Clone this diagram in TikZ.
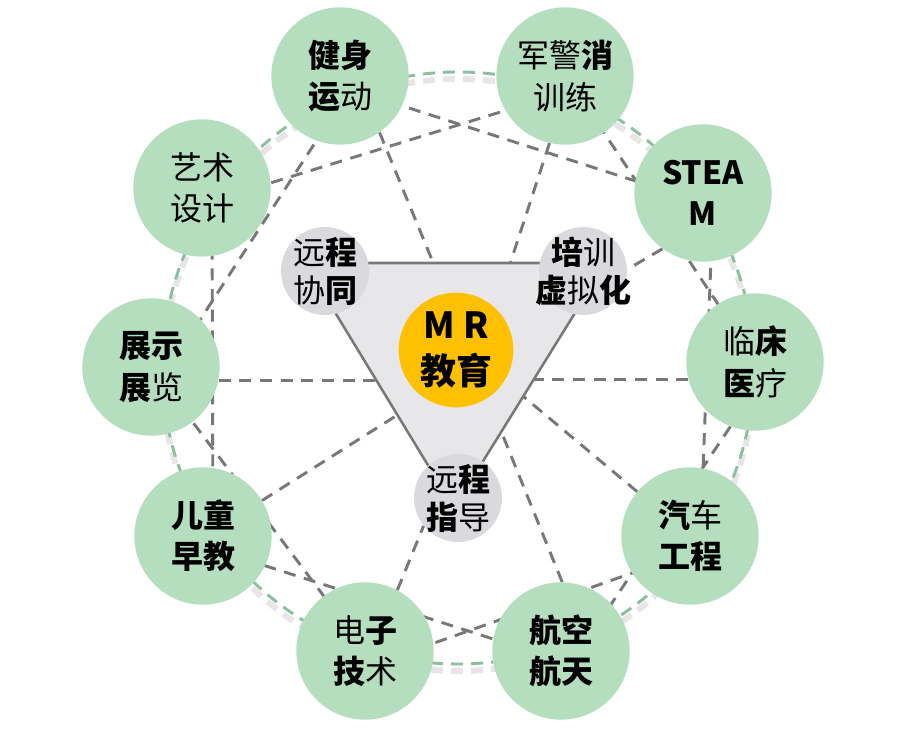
\documentclass[tikz,border=0pt]{standalone}
\usepackage{fontspec}
\setmainfont{Noto Sans CJK SC}
\usepackage{tikz}

\pgfdeclarelayer{back}
\pgfdeclarelayer{links}
\pgfsetlayers{back,links,main}

\definecolor{leaf}{RGB}{180,222,190}
\definecolor{sage}{RGB}{140,190,160}
\definecolor{haze}{RGB}{232,228,232}
\definecolor{slate}{RGB}{120,120,120}
\definecolor{fog}{RGB}{231,231,233}
\definecolor{mist}{RGB}{218,218,222}
\definecolor{amber}{RGB}{255,192,0}

\begin{document}
\begin{tikzpicture}[x=0.75pt,y=0.75pt,yscale=-1,xscale=1,
    field/.style={circle,fill=leaf,minimum size=103pt,inner sep=0pt,align=center,font=\fontsize{24}{31}\selectfont},
    mode/.style={circle,fill=mist,minimum size=66pt,inner sep=0pt},
    modetext/.style={align=center,inner sep=0pt,font=\fontsize{24}{28.5}\selectfont},
    core/.style={circle,fill=amber,minimum size=86pt,inner sep=0pt,align=center,font=\fontsize{27}{34}\selectfont\bfseries},
    link/.style={draw=slate,line width=2.2pt,dash pattern=on 9pt off 6.5pt},
    ring/.style={draw=sage,line width=2.2pt,dash pattern=on 9pt off 6pt},
    ringshade/.style={draw=haze,line width=4.5pt,dash pattern=on 9pt off 6pt},
    tri/.style={draw=slate,fill=fog,line width=1.9pt,line join=round}]
        \useasboundingbox (0,0) rectangle (900,730);

        %Shape: Circle (outer ring)
        \begin{pgfonlayer}{back}
        \draw [ringshade] (458,375) circle [radius=222pt];
        \draw [ring] (458,368) circle [radius=222pt];
        \end{pgfonlayer}

        %Shape: Triangle
        \coordinate (t1) at (305,263);
        \coordinate (t2) at (606,263);
        \coordinate (t3) at (454,508);
        \draw [tri] (t1) -- (t2) -- (t3) -- cycle;

        %Shape: Circle (inner)
        \node [mode,label={[modetext]center:{远\textbf{程}\\协\textbf{同}}}] (xie) at (325,271) {};
        \node [mode,label={[modetext]center:{\textbf{培}训\\\textbf{虚}拟\textbf{化}}}] (pei) at (583,271) {};
        \node [mode,label={[modetext]center:{远\textbf{程}\\\textbf{指}导}}] (zhi) at (458,498) {};
        \node [core] (mr) at (456,350) {M~R\\教育};

        %Shape: Circle (outer)
        \node [field] (jian) at (340,76) {\textbf{健身}\\\textbf{运}动};
        \node [field] (jun) at (565,76) {军警\textbf{消}\\训练};
        \node [field] (steam) at (703,193) {\textbf{STEA}\\\textbf{M}};
        \node [field] (lin) at (755,362) {临\textbf{床}\\\textbf{医}疗};
        \node [field] (qi) at (690,536) {\textbf{汽}车\\\textbf{工程}};
        \node [field] (hang) at (561,651) {\textbf{航空}\\\textbf{航天}};
        \node [field] (dian) at (365,651) {电\textbf{子}\\\textbf{技}术};
        \node [field] (er) at (203,536) {\textbf{儿童}\\\textbf{早教}};
        \node [field] (zhan) at (151,367) {\textbf{展示}\\\textbf{展}览};
        \node [field] (yi) at (202,188) {艺术\\设计};

        %Straight Lines (star)
        \begin{pgfonlayer}{links}
        \foreach \a/\b in {jian/steam,steam/qi,qi/dian,dian/zhan,zhan/jian,jun/lin,lin/hang,hang/er,er/yi,yi/jun}
            \draw [link] ([shift={(10,13)}]\a.center) -- ([shift={(10,13)}]\b.center);

        %Straight Lines (spokes)
        \coordinate (jian-in) at (437,272);
        \coordinate (jun-in) at (509,267);
        \coordinate (qi-in) at (518,392);
        \coordinate (hang-in) at (499,426);
        \coordinate (er-in) at (410,407);
        \draw [link] (jian.305) -- (jian-in);
        \draw [link] (jun.257) -- (jun-in);
        \draw [link] (steam.234) -- (pei.2);
        \draw [link] (lin.195) -- (lin.195 -| mr);
        \draw [link] (qi.140) -- (qi-in);
        \draw [link] (hang.89) -- (hang-in);
        \draw [link] (dian.62) -- (zhi.219);
        \draw [link] (er.31) -- (er-in);
        \draw [link] (zhan.349) -- (zhan.349 -| mr);
        \end{pgfonlayer}

\end{tikzpicture}
\end{document}
